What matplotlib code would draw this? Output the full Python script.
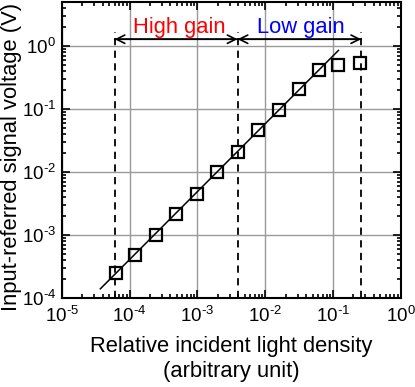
import matplotlib.pyplot as plt
import numpy as np
from matplotlib.ticker import LogLocator, NullFormatter, FuncFormatter

plt.rcParams['font.family'] = ['Liberation Sans', 'DejaVu Sans']
plt.rcParams['mathtext.fontset'] = 'custom'
plt.rcParams['mathtext.rm'] = 'Liberation Sans'
plt.rcParams['mathtext.it'] = 'Liberation Sans:italic'

# measured points
light = [6.2e-5, 1.21e-4, 2.46e-4, 4.9e-4, 9.9e-4, 1.95e-3, 3.9e-3,
         7.9e-3, 1.57e-2, 3.1e-2, 6.2e-2, 0.12, 0.25]
voltage = [2.5e-4, 4.8e-4, 1.0e-3, 2.16e-3, 4.5e-3, 1.0e-2, 2.1e-2,
           4.6e-2, 9.6e-2, 0.21, 0.42, 0.50, 0.53]

# linear fit line ends
fit_x = [3.7e-5, 0.12]
fit_y = [1.4e-4, 0.85]

# gain region borders
borders = [6.0e-5, 3.9e-3, 0.26]

fig = plt.figure(figsize=(4.15, 3.87), dpi=100)
ax = fig.add_axes([0.149, 0.23, 0.817, 0.765])

ax.set_xscale('log')
ax.set_yscale('log')
ax.set_xlim(1e-5, 1)
ax.set_ylim(1e-4, 5)

ax.grid(True, which='major', color='#999999', lw=1)
ax.set_axisbelow(True)

ax.plot(fit_x, fit_y, color='black', lw=1.1)
ax.plot(light, voltage, 's', ms=8.5, mfc='none', mec='black', mew=1.6)

for b in borders:
    ax.plot([b, b], [1e-4, 1.69], color='black', ls=(0, (4, 3)), lw=1.3)

arrow_y = 1.28
for a, b in [(0, 1), (1, 2)]:
    for s, e in [(borders[a], borders[b]), (borders[b], borders[a])]:
        ax.annotate('', xy=(s, arrow_y), xytext=(e, arrow_y),
                    arrowprops=dict(arrowstyle='->', color='black', lw=1.2,
                                    shrinkA=0, shrinkB=0, mutation_scale=15))

ax.text(np.sqrt(borders[0] * borders[1]) * 1.1, 1.62, 'High gain', color='red',
        fontsize=15.8, ha='center', va='baseline')
ax.text(np.sqrt(borders[1] * borders[2]) * 1.04, 1.62, 'Low gain', color='blue',
        fontsize=15.8, ha='center', va='baseline')


def pow10(v, pos):
    n = int(round(np.log10(v)))
    return r'$10^{\text{%d}}$' % n


ax.xaxis.set_major_locator(LogLocator(base=10, numticks=10))
ax.yaxis.set_major_locator(LogLocator(base=10, numticks=10))
ax.xaxis.set_major_formatter(FuncFormatter(pow10))
ax.yaxis.set_major_formatter(FuncFormatter(pow10))
ax.xaxis.set_minor_locator(LogLocator(base=10, subs=np.arange(2, 10), numticks=20))
ax.yaxis.set_minor_locator(LogLocator(base=10, subs=np.arange(2, 10), numticks=20))
ax.xaxis.set_minor_formatter(NullFormatter())
ax.yaxis.set_minor_formatter(NullFormatter())
ax.tick_params(which='both', direction='in', top=True, right=True, width=1.2)
ax.tick_params(which='major', length=6, labelsize=13.5, pad=4)
ax.tick_params(axis='x', which='major', pad=6)
ax.tick_params(which='minor', length=3)
for s in ax.spines.values():
    s.set_linewidth(1.5)

ax.set_xlabel('Relative incident light density\n(arbitrary unit)', fontsize=15.8,
              linespacing=1.25)
ax.xaxis.set_label_coords(0.5, -0.13)
ax.set_ylabel('Input-referred signal voltage (V)', fontsize=15.8)
ax.yaxis.set_label_coords(-0.118, 0.476)

fig.savefig('out.png', dpi=100)
